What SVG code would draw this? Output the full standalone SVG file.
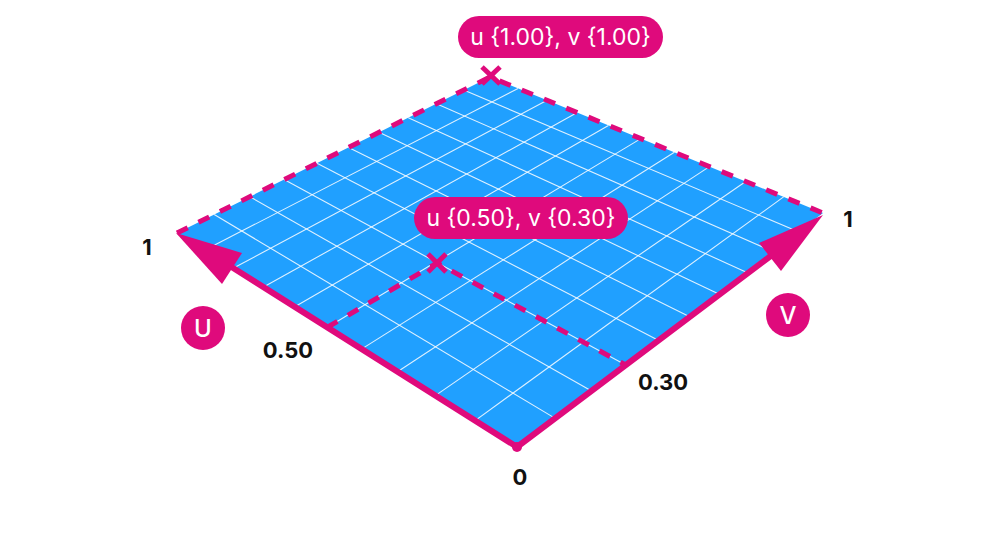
<svg xmlns="http://www.w3.org/2000/svg" width="1000" height="552" viewBox="0 0 1000 552">
<style>
.grid line{stroke:#ffffff;stroke-width:1.1;opacity:0.85}
.solid{stroke:#DF0A7C;stroke-width:6;fill:none;stroke-linecap:round}
.dash{stroke:#DF0A7C;stroke-width:5;fill:none;stroke-dasharray:12 12}
.cross{stroke:#DF0A7C;stroke-width:5;stroke-linecap:butt}
.pink{fill:#DF0A7C}
.pill{fill:#DF0A7C}
.pilltxt{font-family:Inter,"Noto Sans",sans-serif;font-size:23px;fill:#ffffff;text-anchor:middle}
.num{font-family:Inter,"Noto Sans",sans-serif;font-size:22px;font-weight:700;fill:#111111;text-anchor:middle}
.axl{font-family:Inter,"Noto Sans",sans-serif;font-size:24px;font-weight:500;fill:#ffffff;text-anchor:middle}
</style>
<rect width="1000" height="552" fill="#ffffff"/>
<g id="plane">
<polygon points="517,447 177,233 490,77 823,213" fill="#20A0FF"/>
<g class="grid">
<line x1="475.1" y1="420.6" x2="783.6" y2="196.9"/>
<line x1="435.3" y1="395.6" x2="745.7" y2="181.5"/>
<line x1="397.5" y1="371.8" x2="709.4" y2="166.6"/>
<line x1="361.5" y1="349.1" x2="674.4" y2="152.3"/>
<line x1="327.1" y1="327.5" x2="640.8" y2="138.6"/>
<line x1="294.4" y1="306.9" x2="608.4" y2="125.4"/>
<line x1="263.1" y1="287.2" x2="577.2" y2="112.6"/>
<line x1="233.1" y1="268.3" x2="547.1" y2="100.3"/>
<line x1="204.5" y1="250.3" x2="518.0" y2="88.5"/>
<line x1="554.8" y1="418.1" x2="214.2" y2="214.5"/>
<line x1="590.7" y1="390.6" x2="249.9" y2="196.7"/>
<line x1="624.8" y1="364.5" x2="284.1" y2="179.6"/>
<line x1="657.3" y1="339.7" x2="317.0" y2="163.2"/>
<line x1="688.2" y1="316.1" x2="348.6" y2="147.5"/>
<line x1="717.7" y1="293.6" x2="379.0" y2="132.3"/>
<line x1="745.8" y1="272.1" x2="408.3" y2="117.7"/>
<line x1="772.7" y1="251.5" x2="436.5" y2="103.7"/>
<line x1="798.4" y1="231.8" x2="463.7" y2="90.1"/>
</g>
</g>
<g id="connectors">
<polyline class="dash" points="177,233 490,77 823,213"/>
<polyline class="dash" points="327.1,327.5 437,263 624.8,364.5"/>
<line class="solid" x1="517" y1="447" x2="230" y2="266"/>
<line class="solid" x1="517" y1="447" x2="772" y2="255"/>
<circle class="pink" cx="517" cy="447" r="5"/>
<polygon class="pink" points="176,233 242,253 222,284"/>
<polygon class="pink" points="823,215 759,243 781,271"/>
</g>
<g id="marker-top">
<line class="cross" x1="482" y1="67" x2="500" y2="84"/>
<line class="cross" x1="500" y1="67" x2="482" y2="84"/>
</g>
<g id="marker-mid">
<line class="cross" x1="428" y1="254" x2="446" y2="272"/>
<line class="cross" x1="446" y1="254" x2="428" y2="272"/>
</g>
<g id="label-top">
<rect class="pill" x="458" y="16" width="205" height="42" rx="21"/>
<text class="pilltxt" x="560.5" y="44.5">u {1.00}, v {1.00}</text>
</g>
<g id="label-mid">
<rect class="pill" x="414" y="197" width="214" height="42" rx="21"/>
<text class="pilltxt" x="521" y="225.5">u {0.50}, v {0.30}</text>
</g>
<g id="axis-u">
<circle class="pink" cx="203" cy="328" r="22"/>
<text class="axl" x="203" y="337">U</text>
</g>
<g id="axis-v">
<circle class="pink" cx="788" cy="315" r="22"/>
<text class="axl" x="788" y="324">V</text>
</g>
<g id="numbers">
<text class="num" x="147" y="255">1</text>
<text class="num" x="848" y="227">1</text>
<text class="num" x="288" y="358">0.50</text>
<text class="num" x="663" y="390">0.30</text>
<text class="num" x="520" y="485">0</text>
</g>
</svg>
